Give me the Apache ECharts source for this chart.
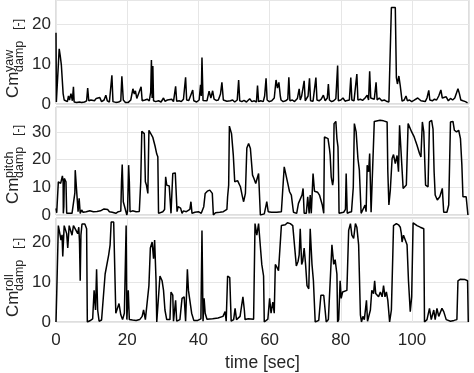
<!DOCTYPE html>
<html><head><meta charset="utf-8">
<script src="https://cdn.jsdelivr.net/npm/echarts@6/dist/echarts.min.js"></script>
<style>html,body{margin:0;padding:0;background:#fff}#c{width:474px;height:373px}</style>
</head><body><div id="c"></div>
<script>
const xTicks = [0, 20, 40, 60, 80, 100];
const yawT = [0,0.1,0.5,0.9,1.2,1.5,1.7,2.0,2.3,2.7,3.2,3.5,3.8,4.2,4.4,4.6,4.9,5.1,5.8,6.6,7.2,8.0,8.6,8.9,9.2,9.8,10.3,10.8,11.3,11.8,12.3,12.8,13.5,14.0,14.4,15.0,15.7,16.0,16.8,17.6,18.2,18.5,18.9,19.5,20.3,21.0,21.6,22.0,22.3,22.7,23.2,23.9,24.2,25.0,25.6,26.2,26.6,26.8,27.0,27.2,27.4,28.0,28.8,29.5,30.2,30.6,31.3,31.8,32.5,33.0,33.6,33.9,34.6,35.2,35.8,36.4,36.7,37.3,37.8,38.4,38.7,39.5,40.2,40.6,40.8,41.0,41.3,41.8,42.4,43.0,43.5,44.0,44.4,45.0,45.6,46.2,46.6,47.0,47.5,48.0,48.5,49.0,49.6,50.2,50.9,51.3,51.6,52.2,52.8,53.5,54.4,55.0,55.7,56.3,56.6,56.9,57.5,58.2,58.6,59.0,59.3,59.9,60.6,61.3,61.8,62.2,62.6,63.0,63.2,63.8,64.5,65.1,65.4,65.7,66.4,67.0,67.8,68.3,68.6,69.0,69.7,70.0,70.4,70.8,71.2,71.5,72.2,72.7,73.0,73.3,73.9,74.5,75.1,75.6,76.2,76.5,76.8,77.4,78.0,78.6,79.1,79.3,80.0,80.6,81.2,81.8,82.4,82.8,83.1,83.7,84.2,84.5,84.8,85.5,86.1,86.8,87.4,87.8,88.1,88.4,88.9,89.4,89.9,90.2,90.8,91.5,92.2,92.8,93.5,93.9,94.2,95.3,95.6,95.9,96.3,96.7,97.2,97.8,98.3,98.7,99.3,99.9,100.5,101.0,101.6,102.1,102.5,103.0,103.7,104.2,104.7,105.0,105.7,106.3,106.9,107.5,108.1,108.5,109.0,109.6,110.2,110.8,111.4,112.0,112.5,112.9,113.3,113.7,114.3,115.0,115.6];
const yawV = [17.8,0.5,0.6,13.8,12,9.8,10,2.6,1.0,1.5,0.6,2.0,1.0,2.6,3.0,0.8,4.3,0.5,0.4,0.5,0.4,0.5,0.8,4.0,0.8,1.0,1.5,0.8,1.4,1.2,1.6,0.6,1.0,2.2,0.8,0.5,7.2,0.6,0.4,0.5,0.8,6.9,1.0,0.4,0.4,1.0,3.8,2.5,3.3,1.4,1.0,4.3,0.8,1.0,1.2,0.8,3.0,11.0,1.5,9.5,0.8,0.6,0.8,0.5,1.5,0.7,1.0,0.5,1.2,0.6,4.4,0.7,0.8,0.6,1.2,6.7,1.0,0.9,1.1,3.5,0.8,0.5,1.0,4.8,2.0,11.6,0.9,1.0,0.8,3.2,1.5,3.3,1.2,0.9,1.0,2.5,5.4,1.0,1.4,0.7,1.2,0.8,1.0,0.5,1.0,6.0,0.8,0.6,0.9,0.5,1.3,0.6,0.8,0.5,4.6,0.6,0.8,0.6,2.0,6.4,1.0,0.6,0.8,1.5,6.0,4.0,5.4,2.0,1.0,0.6,0.8,1.2,6.7,0.8,1.0,0.6,1.4,3.8,1.0,2.0,5.8,0.8,0.6,2.0,6.4,0.8,0.7,1.0,6.6,1.0,0.8,1.2,2.2,0.8,1.5,5.0,1.0,0.6,0.8,1.3,9.6,0.8,1.0,1.5,0.7,0.9,1.0,6.6,1.0,0.8,1.2,7.5,1.0,1.2,0.9,1.5,2.2,1.0,8.2,1.5,2.0,1.2,5.4,1.0,1.5,0.8,1.0,0.7,0.5,0.4,24.1,24.1,6.6,5.0,7.0,4.5,0.7,1.0,2.0,0.8,1.0,0.6,0.9,0.5,1.5,2.0,0.8,1.0,0.6,1.5,3.4,1.0,0.8,1.2,1.0,2.0,3.5,1.5,1.2,1.8,0.8,1.4,1.0,1.5,1.0,3.8,2.6,1.0,0.8,0.6,0.3];
const pitchT = [0,0.2,0.5,0.66,1.0,1.3,1.6,1.8,2.0,2.06,2.2,2.34,2.6,2.8,3.0,3.5,4.5,5.0,5.3,5.4,5.8,6.2,6.5,6.8,7.2,7.6,8.5,9.5,10.5,11.5,12.5,13.5,14.0,14.5,15.0,15.8,16.3,16.8,17.5,18.2,18.4,18.6,18.9,19.3,19.9,20.1,20.4,20.6,20.8,21.5,22.5,23.4,23.8,24.1,24.6,24.8,25.1,25.4,25.8,26.1,26.6,27.2,27.8,28.3,28.6,28.8,29.3,30.0,30.5,30.8,31.1,31.8,32.1,32.3,32.6,32.8,33.5,33.8,34.0,34.3,35.0,35.4,35.8,36.6,37.6,37.9,38.2,39.0,40.0,40.8,41.5,41.9,42.5,43.2,43.9,44.2,44.8,46.0,47.0,48.0,48.2,48.5,48.7,49.0,49.3,49.6,49.8,50.2,50.6,51.0,51.3,51.8,52.3,52.7,53.2,53.6,54.1,54.6,55.2,55.6,56.1,56.5,56.9,57.2,57.4,58.5,59.0,59.2,59.6,60.5,62.0,63.3,63.8,64.1,64.6,65.1,65.6,66.1,66.7,67.6,68.1,68.6,69.1,69.4,69.7,70.3,70.7,71.1,71.4,71.7,72.2,72.6,73.5,74.0,74.8,75.2,75.4,76.4,76.8,77.0,77.3,77.7,77.9,78.1,78.6,78.9,79.2,79.4,79.5,80.0,80.8,81.3,81.5,81.8,82.4,83.0,83.5,83.8,84.3,84.8,85.2,85.5,85.7,86.2,86.8,87.1,87.4,87.8,88.1,88.5,89.0,89.4,91.0,92.0,93.0,93.2,93.5,93.9,94.4,94.8,95.3,95.8,96.2,96.5,97.0,97.5,97.9,98.4,98.9,99.4,99.9,100.6,101.4,102.1,102.5,102.9,103.3,103.8,104.5,104.9,105.5,105.9,106.2,106.5,107.1,107.8,108.5,108.9,109.8,110.3,110.8,111.5,111.9,112.5,113.1,113.6,114.0,114.3,115.2,115.7];
const pitchV = [2.4,0.8,1,12,12.2,11.4,12,14.1,12,0.6,3,13.2,12.5,12,0.6,0.8,0.6,1.2,8,16.2,15.5,1.2,6,0.6,1.8,1.0,1.2,1.5,1.2,1.3,1.5,2.2,1.8,2.0,1.2,1.0,1.7,0.6,1.2,1.4,12,18.2,4.8,4.2,0,1.5,18,12,1.2,1.5,1.2,1.3,12,30.2,30,29.4,12,10.8,7.8,30.6,31,28,25,22,21,0.6,1.0,1.2,2.0,13.8,10.8,10.5,10.2,0.6,1.0,15,15.2,14.5,1.2,3.0,2.5,0.6,1.5,1.2,2.0,4.8,0.6,1.0,1.2,0.6,3,7.8,8.6,9,7.8,0,0.8,1.0,1.2,2.0,6.6,10.8,32.1,32,29.4,30,21.6,12,12.6,12.4,12.6,10.2,7.0,4.8,7.8,24.2,25.8,24,14.4,13.2,11.4,12,15,14.4,0,0.4,3.5,4.8,1.2,1.0,1.0,1.2,1.4,17.4,16.8,11.4,8.4,7.2,1.0,0.6,4.2,3.6,7.2,9.6,0.6,0.6,6.6,0.6,7.2,0.6,15,8.6,8.2,7.2,3.6,0.6,28.2,27.6,24,21.6,13.8,10.8,12.6,33,33.8,27.6,24.6,11.4,0.6,1.0,1.0,2,15,0.6,1.0,1.2,10,33,30,20.4,16.2,15.6,0.6,1.0,3.6,1.2,18,15.6,22.2,1.0,0.6,33.8,34.2,34.0,33.6,15.6,3.6,9.0,20.4,21.8,18.6,21.5,15.6,32.4,32.6,9.6,9.0,10.8,33,33.6,30,28.2,25.2,22.2,21,33.6,30,10.8,10.2,33.6,34.2,31,15.6,7.2,5.4,6.6,9.6,1.0,1.0,3.6,33.6,33.8,30.6,30,30.6,27.6,18,6.6,6.6,0];
const rollT = [0,0.2,0.66,1.1,1.4,1.7,1.9,2.3,2.7,3.0,3.3,3.7,4.2,4.5,4.9,5.4,5.7,6.1,6.4,6.6,6.8,7.0,7.3,8.1,8.6,8.8,9.5,10.3,10.7,11.1,11.4,11.7,12.1,12.8,13.3,13.8,14.3,14.8,15.2,15.5,16.2,16.6,16.8,17.3,17.7,18.2,18.7,19.2,19.7,19.9,20.3,20.6,21.5,22.5,23.5,24.2,24.6,25.1,25.6,26.1,26.5,27.0,27.4,27.7,28.1,28.3,28.6,29.2,29.8,30.2,30.6,31.1,32.0,32.3,32.8,33.0,33.6,33.9,34.8,35.4,36.0,36.4,36.9,37.2,37.7,38.1,38.7,39.8,40.7,41.0,41.3,41.6,41.9,42.4,44.0,45.5,46.9,47.5,47.8,48.2,48.8,49.2,49.9,50.3,50.7,51.7,52.5,52.9,53.1,54.0,55.5,55.9,56.4,56.9,57.3,57.8,58.3,58.5,59.5,60.0,60.4,60.9,61.3,61.6,62.1,62.5,63.0,63.3,64.4,65.0,65.8,66.5,67.0,67.5,68.0,68.3,68.6,69.0,69.3,69.7,70.1,70.5,71.0,71.4,71.9,72.3,72.8,73.8,74.4,75.2,75.6,75.9,76.5,77.0,77.5,78.0,78.4,78.9,79.1,79.4,79.8,80.1,80.5,81.0,81.7,82.2,82.7,83.1,83.6,84.1,84.5,85.0,85.5,85.8,86.2,86.6,87.2,87.5,88.3,88.7,89.2,89.5,89.8,90.2,90.6,91.1,91.6,92.0,92.4,92.8,93.2,93.7,94.2,94.6,94.8,95.6,96.2,96.7,97.0,97.2,97.6,98.1,98.6,99.0,99.5,99.9,100.3,101.4,102.3,103.3,103.5,104.2,104.9,105.4,106.1,106.5,107.0,107.5,108.4,108.9,109.6,110.8,111.8,112.6,112.9,113.6,114.9,115.6,115.8];
const rollV = [0,7,24.1,24.1,20.5,21.8,16.4,24.1,24.4,22.1,18.5,24.1,24.1,21.7,24.1,23.3,23.3,22.1,23.7,20,10.3,21.7,24.5,24.5,23.3,0,0.3,0.8,7.9,3,13.2,3,0.2,0.5,0.6,12,12.4,16.8,19.3,25,25,24.5,2.2,2.2,4.6,1.8,0.6,2.2,24.1,0.6,7.9,0.6,0.5,0.4,0.6,1.4,3.0,0.6,0.2,9.1,18.5,20,15.8,20.5,10.3,0,0,11.5,10.3,7.9,3.0,0.6,0.6,7.5,6.7,0.2,5.4,0.2,0.6,5.9,6.3,0.2,13.2,7.9,7.9,2.2,0.4,0.4,0.8,22.9,0.2,5.9,2.2,0.7,0.8,1.0,1.4,2.6,0.2,11.5,11.1,0.2,0.6,3.4,0.6,1.4,6.3,3.0,0.6,0.8,0.7,24.6,21.7,24.6,20,14.4,11.5,0,0.7,5.9,2.2,5,2.2,14.4,13.6,12.8,12.4,24.1,24.3,24.8,24.6,24.1,23.7,14,15.2,16.8,23.3,14.4,15.2,18.5,14.4,9.1,8.3,23.3,14.4,10.3,0,0.4,6.7,6.7,6.3,0,0.6,0.4,19.3,14.4,15.6,12,0,0.6,10.3,5.9,7.5,7.5,7.9,22.9,24.6,21.7,20.9,24.6,23.7,19.3,1.8,0,1.4,0.6,5.4,0.2,3.0,7.9,7.1,10.3,7.1,6.7,6.3,7.5,6.3,9.1,6.3,7.5,5.4,0,3.0,16.8,24.1,24.6,24.3,23.7,22.1,20,21.7,20.5,19.3,10.3,2.6,6.3,24.8,24.1,23.7,23.3,0,0.6,3.4,0.6,3.0,0.6,3.4,1.4,3.4,2.6,0.6,0.2,0.4,0.6,10.3,10.7,10.6,10.3,0];
const yTicksYaw = [0, 10, 20];
const yTicksPitch = [0, 10, 20, 30];
const yTicksRoll = [0, 10, 20];
const supNames = ['yaw', 'pitch', 'roll'];

const zip = (t, v) => t.map((x, i) => [x, v[i]]);
const FONT = '"Liberation Sans", Arial, Helvetica, sans-serif';
const TXT = '#262626';
const chart = echarts.init(document.getElementById('c'), null, {renderer: 'canvas'});

const grids = [
  {left: 56, right: 5, top: -4, height: 108},
  {left: 56, right: 5, top: 107, height: 108},
  {left: 56, right: 5, top: 218, height: 106}
].map(g => Object.assign(g, {show: true, borderColor: '#bdbdbd', borderWidth: 1, backgroundColor: 'transparent'}));
const yMax = [26, 39, 26];

const xAxes = [0, 1, 2].map(i => ({
  type: 'value', gridIndex: i, min: 0, max: 116, interval: 20,
  axisLine: {show: false}, axisTick: {show: false},
  splitLine: {show: true, lineStyle: {color: '#e6e6e6', width: 1}},
  axisLabel: {show: i === 2, fontSize: 17, fontFamily: FONT, color: TXT, margin: 10, showMaxLabel: false,
    formatter: v => xTicks.includes(v) ? String(v) : ''},
  name: i === 2 ? 'time [sec]' : '', nameLocation: 'middle', nameGap: 32,
  nameTextStyle: {fontSize: 17.5, fontFamily: FONT, color: TXT}
}));
const yTickSets = [yTicksYaw, yTicksPitch, yTicksRoll];
const yAxes = [0, 1, 2].map(i => ({
  type: 'value', gridIndex: i, min: 0, max: yMax[i], interval: 10,
  axisLine: {show: false}, axisTick: {show: false},
  splitLine: {show: true, lineStyle: {color: '#e6e6e6', width: 1}},
  axisLabel: {fontSize: 17, fontFamily: FONT, color: TXT, margin: 5, showMaxLabel: false,
    formatter: v => yTickSets[i].includes(v) ? String(v) : ''}
}));
const datas = [zip(yawT, yawV), zip(pitchT, pitchV), zip(rollT, rollV)];
const series = datas.map((d, i) => ({
  type: 'line', xAxisIndex: i, yAxisIndex: i, data: d, showSymbol: false,
  lineStyle: {color: '#000', width: 1.5}, silent: true, animation: false
}));

function ylab(sup, y0) {
  const R = Math.PI / 2;
  const mk = (x, y, text, fs) => ({
    type: 'text', x: x, y: y, rotation: R, silent: true,
    style: {text: text, fontSize: fs, fontFamily: FONT, fill: TXT,
      align: 'left', verticalAlign: 'middle', textAlign: 'left', textVerticalAlign: 'middle'}
  });
  return [
    mk(13.3, y0, 'Cm', 17),
    mk(9.3, y0 - 26, sup, 12.5),
    mk(19.5, y0 - 26, 'damp', 12.5),
    mk(18.8, y0 - 68, '[-]', 12.5)
  ];
}
const graphic = [].concat(ylab(supNames[0], 98), ylab(supNames[1], 204), ylab(supNames[2], 317));

chart.setOption({
  animation: false,
  grid: grids, xAxis: xAxes, yAxis: yAxes, series: series, graphic: graphic
});
</script></body></html>
